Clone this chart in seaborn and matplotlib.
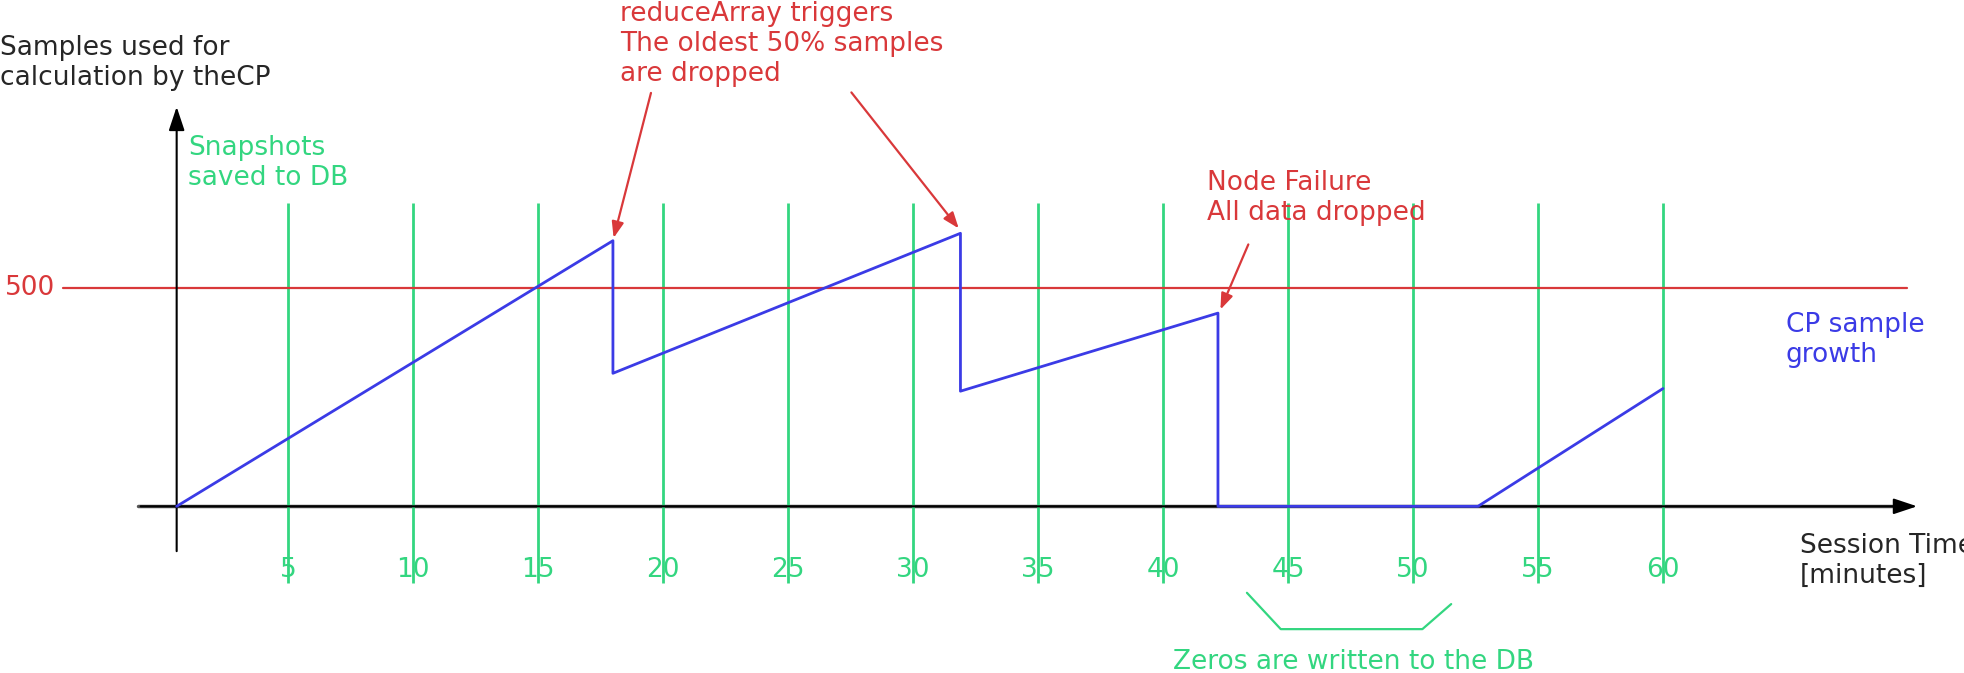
import matplotlib
matplotlib.use("Agg")
import matplotlib.pyplot as plt
import seaborn as sns

sns.set_theme(style="white")
plt.rcParams['font.family'] = ['DejaVu Sans']

# data
snapshot_minutes = [5, 10, 15, 20, 25, 30, 35, 40, 45, 50, 55, 60]
tick_labels = [str(m) for m in snapshot_minutes]
growth_time = [0.55, 18, 18, 31.9, 31.9, 42.2, 42.2, 52.6, 60]
growth_samples = [0, 609, 305, 626, 264, 443, 0, 0, 270]
threshold = 500
axis_origin = 0.55

GREEN = '#33d680'
RED = '#d9383a'
BLUE = '#3b3be6'

# helpers: layout sketched in pixel space of a 1568x537 canvas
def px(x):
    return (x - 130) / 19.95

def py(y):
    return (404 - y) / 0.348

fig = plt.figure(figsize=(19.65, 6.73), dpi=100)
ax = fig.add_axes([0, 0, 1, 1])
ax.set_xlim(px(0), px(1568))
ax.set_ylim(py(537), py(0))
ax.axis('off')

fs = 19

# axes with arrows
ax.annotate('', xy=(px(1532), 0), xytext=(px(110), 0),
            arrowprops=dict(arrowstyle='-|>,head_length=1.2,head_width=0.4', color='black', lw=1.5))
ax.annotate('', xy=(axis_origin, py(83)), xytext=(axis_origin, py(442)),
            arrowprops=dict(arrowstyle='-|>,head_length=1.2,head_width=0.4', color='black', lw=1.5))
ax.plot([px(110), px(1510)], [0, 0], color='#555555', lw=2.5, zorder=1)

# snapshot lines and tick labels
ax.vlines(snapshot_minutes, py(465), py(162), color=GREEN, lw=2, zorder=2)
for m, lab in zip(snapshot_minutes, tick_labels):
    ax.text(m, py(455), lab, color=GREEN, fontsize=fs, ha='center', va='center')

# threshold
ax.plot([px(50), px(1522)], [threshold, threshold], color=RED, lw=1.6, zorder=2)
ax.text(px(44), threshold, str(threshold), color=RED, fontsize=fs, ha='right', va='center')

# sample growth
sns.lineplot(x=growth_time, y=growth_samples, sort=False, estimator=None, ax=ax,
             color=BLUE, lw=2, zorder=3)

# texts
ax.text(px(0), py(28), 'Samples used for\ncalculation by theCP', fontsize=fs, va='top', linespacing=1.2)
ax.text(px(150), py(108), 'Snapshots\nsaved to DB', fontsize=fs, color=GREEN, va='top', linespacing=1.2)
ax.text(px(495), py(1), 'reduceArray triggers\nThe oldest 50% samples\nare dropped', fontsize=fs,
        color=RED, va='top', linespacing=1.2)
ax.text(px(963), py(136), 'Node Failure\nAll data dropped', fontsize=fs, color=RED, va='top', linespacing=1.2)
ax.text(px(1425), py(249), 'CP sample\ngrowth', fontsize=fs, color=BLUE, va='top', linespacing=1.2)
ax.text(px(1436), py(425), 'Session Time\n[minutes]', fontsize=fs, va='top', linespacing=1.2)
ax.text(px(1080), py(528), 'Zeros are written to the DB', fontsize=fs, color=GREEN, ha='center', va='center')

# bracket
ax.plot([px(995), px(1022), px(1135), px(1158)], [py(473), py(502), py(502), py(482)],
        color=GREEN, lw=1.6)

# red arrows
arrow = dict(arrowstyle='-|>,head_length=0.8,head_width=0.3', color=RED, lw=1.6)
ax.annotate('', xy=(18, py(192)), xytext=(px(520), py(72)), arrowprops=arrow)
ax.annotate('', xy=(31.9, py(184)), xytext=(px(678), py(72)), arrowprops=arrow)
ax.annotate('', xy=(px(973), py(249)), xytext=(px(997), py(193)), arrowprops=arrow)

fig.savefig('out.png', dpi=100)
plt.close(fig)
